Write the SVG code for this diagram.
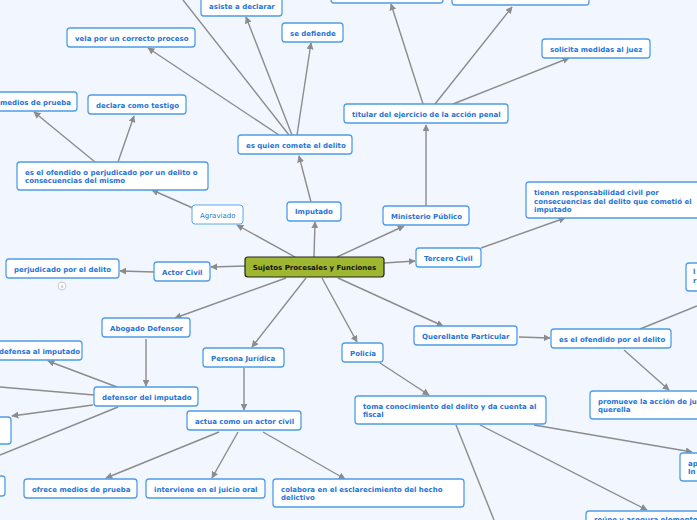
<svg xmlns="http://www.w3.org/2000/svg" width="697" height="520" viewBox="0 0 697 520">
<style>
.n{fill:#fff;stroke:#4d9de8;stroke-width:1.3}
.t{font-family:"DejaVu Sans",sans-serif;font-size:7px;font-weight:bold;fill:#1f74d6}
.e{stroke:#8c8c8c;stroke-width:1.4;fill:none}
.a{marker-end:url(#ar)}
</style>
<defs><marker id="ar" viewBox="0 0 10 10" refX="9" refY="5" markerWidth="5" markerHeight="5" orient="auto"><path d="M0,0L10,5L0,10z" fill="#8c8c8c"/></marker></defs>
<rect width="697" height="520" fill="#f2f6fe"/>
<g id="edges">
<path class="e a" d="M314,257L315,222"/><path class="e a" d="M295,257L237,225"/><path class="e a" d="M245,266L211,267"/>
<path class="e a" d="M337,257L404,226"/><path class="e a" d="M384,263L415,261"/><path class="e a" d="M338,278L443,326"/>
<path class="e a" d="M322,278L357,342"/><path class="e a" d="M306,278L252,347"/><path class="e a" d="M286,278L175,318"/>
<path class="e a" d="M311,202L299,156"/><path class="e a" d="M297,135L311,43"/><path class="e a" d="M292,135L246,17"/>
<path class="e a" d="M279,135L148,48"/><path class="e" d="M289,135L183,0"/>
<path class="e a" d="M195,209L152,190"/><path class="e a" d="M95,162L34,112"/><path class="e a" d="M118,162L134,116"/>
<path class="e a" d="M154,272L120,271"/><path class="e a" d="M426,206L426,125"/>
<path class="e a" d="M423,104L391,4"/><path class="e a" d="M435,104L512,7"/><path class="e a" d="M453,104L569,58"/>
<path class="e a" d="M481,248L565,218"/><path class="e a" d="M519,337L550,338"/>
<path class="e a" d="M624,350L669,390"/><path class="e" d="M640,329L697,306"/>
<path class="e a" d="M380,363L429,395"/><path class="e a" d="M534,425L692,452"/><path class="e a" d="M480,425L647,510"/><path class="e" d="M456,425L494,520"/>
<path class="e a" d="M146,339L146,386"/><path class="e a" d="M117,387L48,361"/><path class="e" d="M94,395L0,387"/>
<path class="e a" d="M93,405L12,416"/><path class="e" d="M118,407L0,455"/>
<path class="e a" d="M244,368L244,410"/><path class="e a" d="M219,432L106,478"/><path class="e a" d="M238,432L212,478"/><path class="e a" d="M263,432L345,479"/>
</g>
<g id="center"><rect x="245" y="257" width="139" height="20" rx="3" fill="#9eb630" stroke="#222" stroke-width="1.2"/><text x="314.5" y="270" text-anchor="middle" class="t" style="fill:#111">Sujetos Procesales y Funciones</text></g>
<g id="imputado"><rect class="n" x="287" y="202" width="54" height="19" rx="3"/><text class="t" x="295" y="214">Imputado</text></g>
<g id="quien"><rect class="n" x="238" y="135" width="114" height="19" rx="3"/><text class="t" x="246" y="148">es quien comete el delito</text></g>
<g id="defiende"><rect class="n" x="282" y="23" width="61" height="19" rx="3"/><text class="t" x="290" y="36">se defiende</text></g>
<g id="asiste"><rect class="n" x="201" y="-6" width="81" height="22" rx="3"/><text class="t" x="209" y="9">asiste a declarar</text></g>
<g id="vela"><rect class="n" x="67" y="28" width="128" height="19" rx="3"/><text class="t" x="75" y="41">vela por un correcto proceso</text></g>
<g id="agraviado"><rect class="n" x="192" y="205" width="51" height="19" rx="3" style="stroke-width:0.9"/><text class="t" x="200" y="218" style="font-weight:normal">Agraviado</text></g>
<g id="ofendido"><rect class="n" x="17" y="162" width="191" height="28" rx="3"/><text class="t" x="25" y="175">es el ofendido o perjudicado por un delito o</text><text class="t" x="25" y="183">consecuencias del mismo</text></g>
<g id="medios"><rect class="n" x="-5" y="92" width="82" height="19" rx="3"/><text class="t" x="0" y="105">medios de prueba</text></g>
<g id="testigo"><rect class="n" x="88" y="95" width="98" height="19" rx="3"/><text class="t" x="96" y="108">declara como testigo</text></g>
<g id="actor"><rect class="n" x="154" y="262" width="56" height="19" rx="3"/><text class="t" x="162" y="275">Actor Civil</text></g>
<g id="perjudicado"><rect class="n" x="6" y="259" width="113" height="19" rx="3"/><text class="t" x="14" y="272">perjudicado por el delito</text><circle cx="62" cy="286" r="4" fill="#fff" stroke="#bbb" stroke-width="0.8"/><text x="62" y="288" text-anchor="middle" style="font-family:'DejaVu Sans',sans-serif;font-size:4.5px;fill:#aaa">4</text></g>
<g id="ministerio"><rect class="n" x="383" y="206" width="86" height="19" rx="3"/><text class="t" x="391" y="219">Ministerio Público</text></g>
<g id="titular"><rect class="n" x="344" y="104" width="164" height="19" rx="3"/><text class="t" x="352" y="117">titular del ejercicio de la acción penal</text></g>
<g id="top1"><rect class="n" x="331" y="-10" width="112" height="13" rx="3"/></g>
<g id="top2"><rect class="n" x="452" y="-10" width="137" height="15" rx="3"/></g>
<g id="solicita"><rect class="n" x="542" y="39" width="108" height="19" rx="3"/><text class="t" x="550" y="52">solicita medidas al juez</text></g>
<g id="tercero"><rect class="n" x="416" y="248" width="65" height="19" rx="3"/><text class="t" x="424" y="261">Tercero Civil</text></g>
<g id="tienen"><rect class="n" x="526" y="182" width="176" height="36" rx="3"/><text class="t" x="534" y="195">tienen responsabilidad civil por</text><text class="t" x="534" y="203.5">consecuencias del delito que cometió el</text><text class="t" x="534" y="212">imputado</text></g>
<g id="querellante"><rect class="n" x="414" y="326" width="103" height="19" rx="3"/><text class="t" x="422" y="339">Querellante Particular</text></g>
<g id="esofendido"><rect class="n" x="551" y="329" width="120" height="19" rx="3"/><text class="t" x="559" y="342">es el ofendido por el delito</text></g>
<g id="right1"><rect class="n" x="686" y="263" width="20" height="28" rx="3"/><text class="t" x="693" y="274">l</text><text class="t" x="693" y="283">r</text></g>
<g id="promueve"><rect class="n" x="590" y="391" width="115" height="28" rx="3"/><text class="t" x="598" y="404">promueve la acción de ju</text><text class="t" x="598" y="412">querella</text></g>
<g id="policia"><rect class="n" x="342" y="343" width="41" height="19" rx="3"/><text class="t" x="350" y="356">Policía</text></g>
<g id="toma"><rect class="n" x="355" y="396" width="191" height="28" rx="3"/><text class="t" x="363" y="409">toma conocimiento del delito y da cuenta al</text><text class="t" x="363" y="417">fiscal</text></g>
<g id="ap"><rect class="n" x="680" y="453" width="25" height="28" rx="3"/><text class="t" x="688" y="466">ap</text><text class="t" x="688" y="474">In</text></g>
<g id="reune"><rect class="n" x="586" y="511" width="120" height="20" rx="3"/><text class="t" x="594" y="522">reúne y asegura elementos</text></g>
<g id="abogado"><rect class="n" x="102" y="318" width="88" height="19" rx="3"/><text class="t" x="110" y="331">Abogado Defensor</text></g>
<g id="defensa"><rect class="n" x="-5" y="341" width="87" height="19" rx="3"/><text class="t" x="-1" y="354">defensa al imputado</text></g>
<g id="defensor"><rect class="n" x="94" y="387" width="104" height="19" rx="3"/><text class="t" x="102" y="400">defensor del imputado</text></g>
<g id="left1"><rect class="n" x="-5" y="417" width="16" height="27" rx="3"/></g>
<g id="left2"><rect class="n" x="-5" y="476" width="10" height="20" rx="3"/></g>
<g id="persona"><rect class="n" x="203" y="348" width="81" height="19" rx="3"/><text class="t" x="211" y="361">Persona Jurídica</text></g>
<g id="actua"><rect class="n" x="187" y="411" width="114" height="19" rx="3"/><text class="t" x="195" y="424">actua como un actor civil</text></g>
<g id="ofrece"><rect class="n" x="24" y="479" width="113" height="19" rx="3"/><text class="t" x="32" y="492">ofrece medios de prueba</text></g>
<g id="interviene"><rect class="n" x="146" y="479" width="119" height="19" rx="3"/><text class="t" x="154" y="492">interviene en el juicio oral</text></g>
<g id="colabora"><rect class="n" x="273" y="479" width="191" height="28" rx="3"/><text class="t" x="281" y="492">colabora en el esclarecimiento del hecho</text><text class="t" x="281" y="500">delictivo</text></g>
</svg>
